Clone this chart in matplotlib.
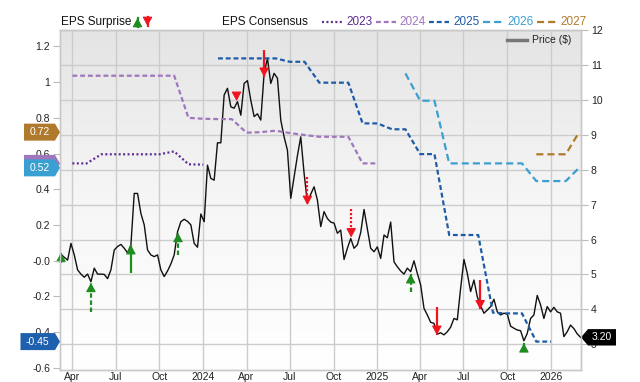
import matplotlib
matplotlib.use('Agg')
import matplotlib.pyplot as plt
from matplotlib.lines import Line2D
from matplotlib.patches import Polygon
from matplotlib.colors import LinearSegmentedColormap
import numpy as np
import pandas as pd

plt.rcParams['font.family'] = ['Liberation Sans', 'DejaVu Sans']

# ---------------- data ----------------
price_start = '2023-03-08'   # weekly closes
price_values = [
    5.58, 5.49, 5.41, 5.89, 5.56, 5.13, 5.01, 4.92, 5.01, 4.79,
    5.18, 5.01, 5.01, 5.00, 4.88, 5.13, 5.70, 5.80, 5.86, 5.75,
    5.62, 5.84, 7.32, 7.32, 6.75, 6.42, 5.70, 5.56, 5.51, 5.56,
    5.13, 4.94, 5.10, 5.30, 5.56, 6.22, 6.51, 6.58, 6.52, 6.42,
    5.89, 5.78, 6.73, 6.51, 8.13, 7.75, 7.70, 8.77, 8.77, 10.14,
    10.33, 9.80, 9.76, 9.95, 9.56, 10.47, 10.55, 9.99, 9.52, 9.60,
    9.42, 10.76, 11.19, 10.47, 10.76, 10.62, 9.42, 8.94, 8.56, 7.18,
    7.80, 8.40, 8.94, 7.90, 7.04, 7.30, 7.51, 7.13, 6.37, 6.80,
    6.60, 6.50, 6.47, 6.18, 6.27, 5.43, 5.75, 6.03, 5.75, 5.85,
    6.20, 6.86, 6.30, 5.75, 5.65, 5.79, 5.46, 6.13, 6.05, 6.50,
    5.36, 5.22, 5.10, 5.01, 5.18, 5.08, 5.39, 5.03, 4.70, 4.03,
    3.84, 3.63, 3.60, 3.29, 3.33, 3.27, 3.36, 3.49, 3.74, 3.70,
    4.60, 5.43, 5.03, 4.51, 4.84, 4.36, 4.10, 3.89, 3.98, 4.08,
    4.29, 3.93, 3.84, 3.89, 3.87, 3.52, 3.46, 3.41, 3.39, 3.10,
    3.31, 3.74, 3.84, 4.40, 4.13, 3.74, 4.08, 3.93, 4.06, 3.93,
    3.89, 3.22, 3.36, 3.55, 3.45, 3.30, 3.20,
]

cons_2023_start = '2023-04-01'
cons_2023 = [0.545, 0.545, 0.596, 0.596, 0.596, 0.596, 0.596, 0.612, 0.54, 0.538]
cons_2024_start = '2023-04-01'
cons_2024 = [1.036, 1.036, 1.036, 1.036, 1.036, 1.036, 1.036, 1.036, 0.80, 0.795,
             0.793, 0.793, 0.717, 0.72, 0.728, 0.715, 0.704, 0.694, 0.694, 0.694,
             0.545, 0.545]
cons_2025_start = '2024-02-01'
cons_2025 = [1.133, 1.133, 1.133, 1.133, 1.133, 1.114, 1.114, 0.997, 0.997, 0.997,
             0.769, 0.769, 0.736, 0.736, 0.597, 0.597, 0.144, 0.144, 0.144, -0.291,
             -0.295, -0.295, -0.453, -0.453]
cons_2026_start = '2025-03-01'
cons_2026 = [1.049, 0.896, 0.896, 0.545, 0.545, 0.545, 0.545, 0.545, 0.545, 0.446,
             0.446, 0.446, 0.52]
cons_2027_start = '2025-12-01'
cons_2027 = [0.596, 0.596, 0.596, 0.72]

years = ['2023', '2024', '2025', '2026', '2027']
year_colors = ['#5e2d91', '#a077bd', '#1f5ca8', '#3a9fd1', '#b07a2c']

surprise_dates = ['2023-03-08', '2023-05-10', '2023-08-02', '2023-11-09', '2024-03-11',
                  '2024-05-08', '2024-08-07', '2024-11-07', '2025-03-12', '2025-05-06',
                  '2025-08-05', '2025-11-05']
surprise_tip = [5.62, 4.76, 5.84, 6.19, 9.97, 10.66, 6.99, 6.06, 5.01, 3.27, 4.00, 3.03]
surprise_tail = [5.32, 3.93, 5.03, 5.56, 10.20, 11.43, 7.80, 6.86, 4.51, 4.08, 4.84, 2.79]
surprise_style = ['solid', 'dashed', 'solid', 'dashed', 'dotted', 'solid', 'dotted',
                  'dotted', 'dashed', 'solid', 'solid', 'solid']

x_tick_dates = ['2023-04-01', '2023-07-01', '2023-10-01', '2024-01-01', '2024-04-01',
                '2024-07-01', '2024-10-01', '2025-01-01', '2025-04-01', '2025-07-01',
                '2025-10-01', '2026-01-01']
x_tick_labels = ['Apr', 'Jul', 'Oct', '2024', 'Apr', 'Jul', 'Oct', '2025', 'Apr', 'Jul',
                 'Oct', '2026']
eps_ticks = [-0.6, -0.4, -0.2, 0.0, 0.2, 0.4, 0.6, 0.8, 1.0, 1.2]
eps_tick_labels = ['-0.6', '-0.4', '-0.2', '-0.0', '0.2', '0.4', '0.6', '0.8', '1', '1.2']
price_ticks = [3, 4, 5, 6, 7, 8, 9, 10, 11, 12]

GREEN = '#1e8c1e'
RED = '#f0141e'

# ---------------- figure ----------------
W, H = 640, 382
fig = plt.figure(figsize=(6.4, 3.82), dpi=100)
L, R, T, B = 60, 581, 30, 370
ax = fig.add_axes([L / W, 1 - B / H, (R - L) / W, (B - T) / H])
ax2 = ax.twinx()

# background gradient
grad = np.linspace(0, 1, 256).reshape(-1, 1)
cmap = LinearSegmentedColormap.from_list('bg', ['#e4e4e4', '#f6f6f6', '#ffffff'])
ax.imshow(grad, extent=[0, 1, 0, 1], transform=ax.transAxes, cmap=cmap,
          aspect='auto', zorder=0, origin='upper')

# price line
price_dates = pd.date_range(price_start, periods=len(price_values), freq='7D')
ax.plot(price_dates, price_values, color='#111111', lw=1.0, zorder=3)

ax.set_xlim(pd.Timestamp('2023-03-06'), pd.Timestamp('2026-03-05'))
ax.set_ylim(2.264, 12.0)
ax.yaxis.tick_right()
ax.set_yticks(price_ticks)
ax.set_yticklabels([str(t) for t in price_ticks])
ax.set_xticks(pd.to_datetime(x_tick_dates))
ax.set_xticklabels(x_tick_labels)
ax.grid(True, color='#cccccc', lw=1.0, zorder=1)
ax.set_axisbelow(True)
ax.tick_params(axis='x', length=0, pad=1.2, labelsize=7.5, colors='#222222')
ax.tick_params(axis='y', which='both', right=True, left=False, length=5, pad=2,
               labelsize=7.5, color='#bbbbbb', labelcolor='#222222')

# surprise arrows
for d, tip, tail, st in zip(surprise_dates, surprise_tip, surprise_tail, surprise_style):
    dt = pd.Timestamp(d)
    up = tip > tail
    col = GREEN if up else RED
    ls = {'solid': '-', 'dashed': (0, (2.0, 1.2)), 'dotted': (0, (1.0, 0.8))}[st]
    ax.plot([dt, dt], [tail, tip], color=col, lw=1.6, linestyle=ls, zorder=5,
            solid_capstyle='butt', dash_capstyle='butt', clip_on=False)
    ax.annotate('', xy=(dt, tip), xycoords='data',
                xytext=(0, -6 if up else 6), textcoords='offset points',
                arrowprops=dict(arrowstyle='-|>,head_length=0.55,head_width=0.3',
                                color=col, lw=0.8, mutation_scale=10,
                                shrinkA=0, shrinkB=0),
                zorder=6, annotation_clip=False)

# price legend inside
ax.add_line(Line2D([(507 - L) / (R - L), (527 - L) / (R - L)],
                   [(B - 40.5) / (B - T)] * 2, transform=ax.transAxes,
                   color='#777777', lw=2.5, zorder=7))
ax.text((532 - L) / (R - L), (B - 40.5) / (B - T), 'Price ($)', transform=ax.transAxes,
        fontsize=7.5, va='center', ha='left', color='#222222', zorder=7)

# last price badge
yt = ax.get_yaxis_transform()
last = price_values[-1]
hh = 8.2 / ((B - T) / (12.0 - 2.264))
a0, a1, a2 = 1.0, 1.0 + 7 / (R - L), 1.0 + 35 / (R - L)
ax.add_patch(Polygon([(a0, last), (a1, last + hh), (a2, last + hh), (a2, last - hh),
                      (a1, last - hh)], closed=True, transform=yt, facecolor='#000000',
                     edgecolor='none', clip_on=False, zorder=8))
ax.text((a1 + a2) / 2, last, f'{last:.2f}', transform=yt, color='white', fontsize=7.5,
        ha='center', va='center', zorder=9, clip_on=False)

# EPS consensus lines
ax2.set_ylim(-0.612, 1.292)
cons = [(cons_2023_start, cons_2023), (cons_2024_start, cons_2024),
        (cons_2025_start, cons_2025), (cons_2026_start, cons_2026),
        (cons_2027_start, cons_2027)]
styles = [(0, (0.9, 1.1)), (0, (2.2, 1.3)), (0, (2.2, 1.3)), (0, (3.2, 1.8)),
          (0, (3.2, 1.8))]
for (st, vals), col, ls in zip(cons, year_colors, styles):
    dts = pd.date_range(st, periods=len(vals), freq='MS')
    ax2.plot(dts, vals, color=col, lw=1.6, linestyle=ls, zorder=4,
             dash_capstyle='butt')

ax2.yaxis.tick_left()
ax2.set_yticks(eps_ticks)
ax2.set_yticklabels(eps_tick_labels)
ax2.tick_params(axis='y', which='both', left=True, right=False, length=5, pad=2,
                labelsize=7.5, color='#bbbbbb', labelcolor='#222222')

for a in (ax, ax2):
    for s in a.spines.values():
        s.set_color('#c8c8c8')
        s.set_linewidth(1.0)

# EPS badges on the left
yt2 = ax2.get_yaxis_transform()
eh = 8.5 / ((B - T) / (1.292 + 0.612))
badges = [(cons_2024[-1], year_colors[1], None, 24),
          (cons_2027[-1], year_colors[4], cons_2027[-1], 24),
          (cons_2026[-1], year_colors[3], cons_2026[-1], 24),
          (cons_2025[-1], '#1e5fae', cons_2025[-1], 20.5)]
for v, col, lab, left_px in badges:
    b0 = (left_px - L) / (R - L)
    b1 = -5 / (R - L)
    ax2.add_patch(Polygon([(b0, v + eh), (b1, v + eh), (0, v), (b1, v - eh), (b0, v - eh)],
                          closed=True, transform=yt2, facecolor=col, edgecolor='none',
                          clip_on=False, zorder=10))
    if lab is not None:
        ax2.text((b0 + b1) / 2, v, f'{lab:.2f}', transform=yt2, color='white',
                 fontsize=7.5, ha='center', va='center', clip_on=False, zorder=11)

# ---------------- top legend ----------------
ly = H - 22
fig.text(61 / W, ly / H, 'EPS Surprise', fontsize=8.5, ha='left', va='center',
         color='#111111')
for xp, up, col in [(137.5, True, GREEN), (147.5, False, RED)]:
    y0, y1 = (ly - 5, ly + 4) if up else (ly + 5, ly - 4)
    fig.add_artist(Line2D([xp / W, xp / W], [y0 / H, y1 / H], transform=fig.transFigure,
                          color=col, lw=1.6))
    ax.annotate('', xy=(xp, y1), xycoords='figure pixels',
                xytext=(xp, y1 - 5 if up else y1 + 5), textcoords='figure pixels',
                arrowprops=dict(arrowstyle='-|>,head_length=0.55,head_width=0.3',
                                color=col, lw=0.8, mutation_scale=10,
                                shrinkA=0, shrinkB=0), annotation_clip=False)

fig.text(222 / W, ly / H, 'EPS Consensus', fontsize=8.5, ha='left', va='center',
         color='#111111')
x = 322
for yr, col, ls in zip(years, year_colors, styles):
    fig.add_artist(Line2D([x / W, (x + 20) / W], [ly / H, ly / H],
                          transform=fig.transFigure, color=col, lw=1.6, linestyle=ls,
                          dash_capstyle='butt'))
    fig.text((x + 24) / W, ly / H, yr, fontsize=8.5, ha='left', va='center', color=col)
    x += 53.7

fig.savefig('out.png', dpi=100)
